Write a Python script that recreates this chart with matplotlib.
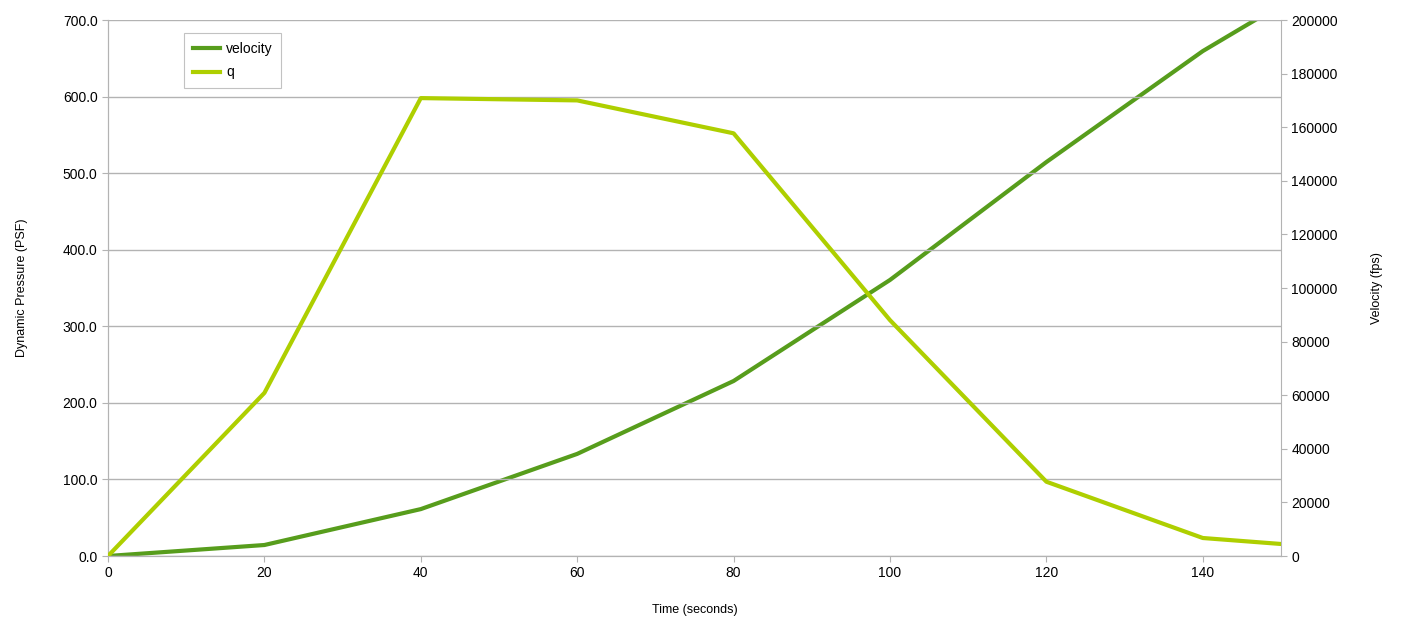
import matplotlib.pyplot as plt

plt.rcParams['font.family'] = ['Liberation Sans', 'DejaVu Sans']

time_v = [0, 20, 40, 60, 80, 100, 120, 140, 146.7]
velocity = [0, 4100, 17500, 38100, 65300, 103000, 147000, 188400, 200000]
time_q = [0, 20, 40, 60, 80, 100, 120, 140, 150]
q = [0, 213, 598, 595, 552, 308, 97, 23.5, 15.7]

fig = plt.figure(figsize=(14.1, 6.31), dpi=100)
ax = fig.add_axes([108 / 1410, 75 / 631, 1173 / 1410, 536 / 631])
ax2 = ax.twinx()

ax.plot(time_q, q, color='#aecf00', lw=3, label='q', zorder=3)
ax2.plot(time_v, velocity, color='#579d1c', lw=3, label='velocity')
ax.set_zorder(ax2.get_zorder() + 1)
ax.patch.set_visible(False)

ax.set_xlim(0, 150)
ax.set_ylim(0, 700)
ax2.set_ylim(0, 200000)
ax.set_xticks(range(0, 141, 20))
ax.set_yticks(range(0, 701, 100))
ax.set_yticklabels([f'{v:.1f}' for v in range(0, 701, 100)])
ax2.set_yticks(range(0, 200001, 20000))
ax.yaxis.grid(True, color='#b3b3b3', lw=1)
for a in (ax, ax2):
    for s in a.spines.values():
        s.set_color('#b3b3b3')
    a.spines['top'].set_visible(False)
    a.tick_params(labelsize=10, color='#b3b3b3', length=4)
ax.spines['right'].set_visible(False)

ax.set_xlabel('Time (seconds)', fontsize=9)
ax.xaxis.set_label_coords(0.5, -0.09)
ax.set_ylabel('Dynamic Pressure (PSF)', fontsize=9)
ax.yaxis.set_label_coords(-0.068, 0.5)
ax2.set_ylabel('Velocity (fps)', fontsize=9)
ax2.yaxis.set_label_coords(1.077, 0.5)

h1, l1 = ax2.get_legend_handles_labels()
h2, l2 = ax.get_legend_handles_labels()
leg = ax.legend(h1 + h2, l1 + l2, loc='upper left', bbox_to_anchor=(0.065, 0.975),
                fontsize=10, fancybox=False, edgecolor='#b3b3b3', handlelength=2,
                labelspacing=0.7, borderpad=0.6, handletextpad=0.4, borderaxespad=0)
leg.get_frame().set_linewidth(0.8)

fig.savefig('out.png')
